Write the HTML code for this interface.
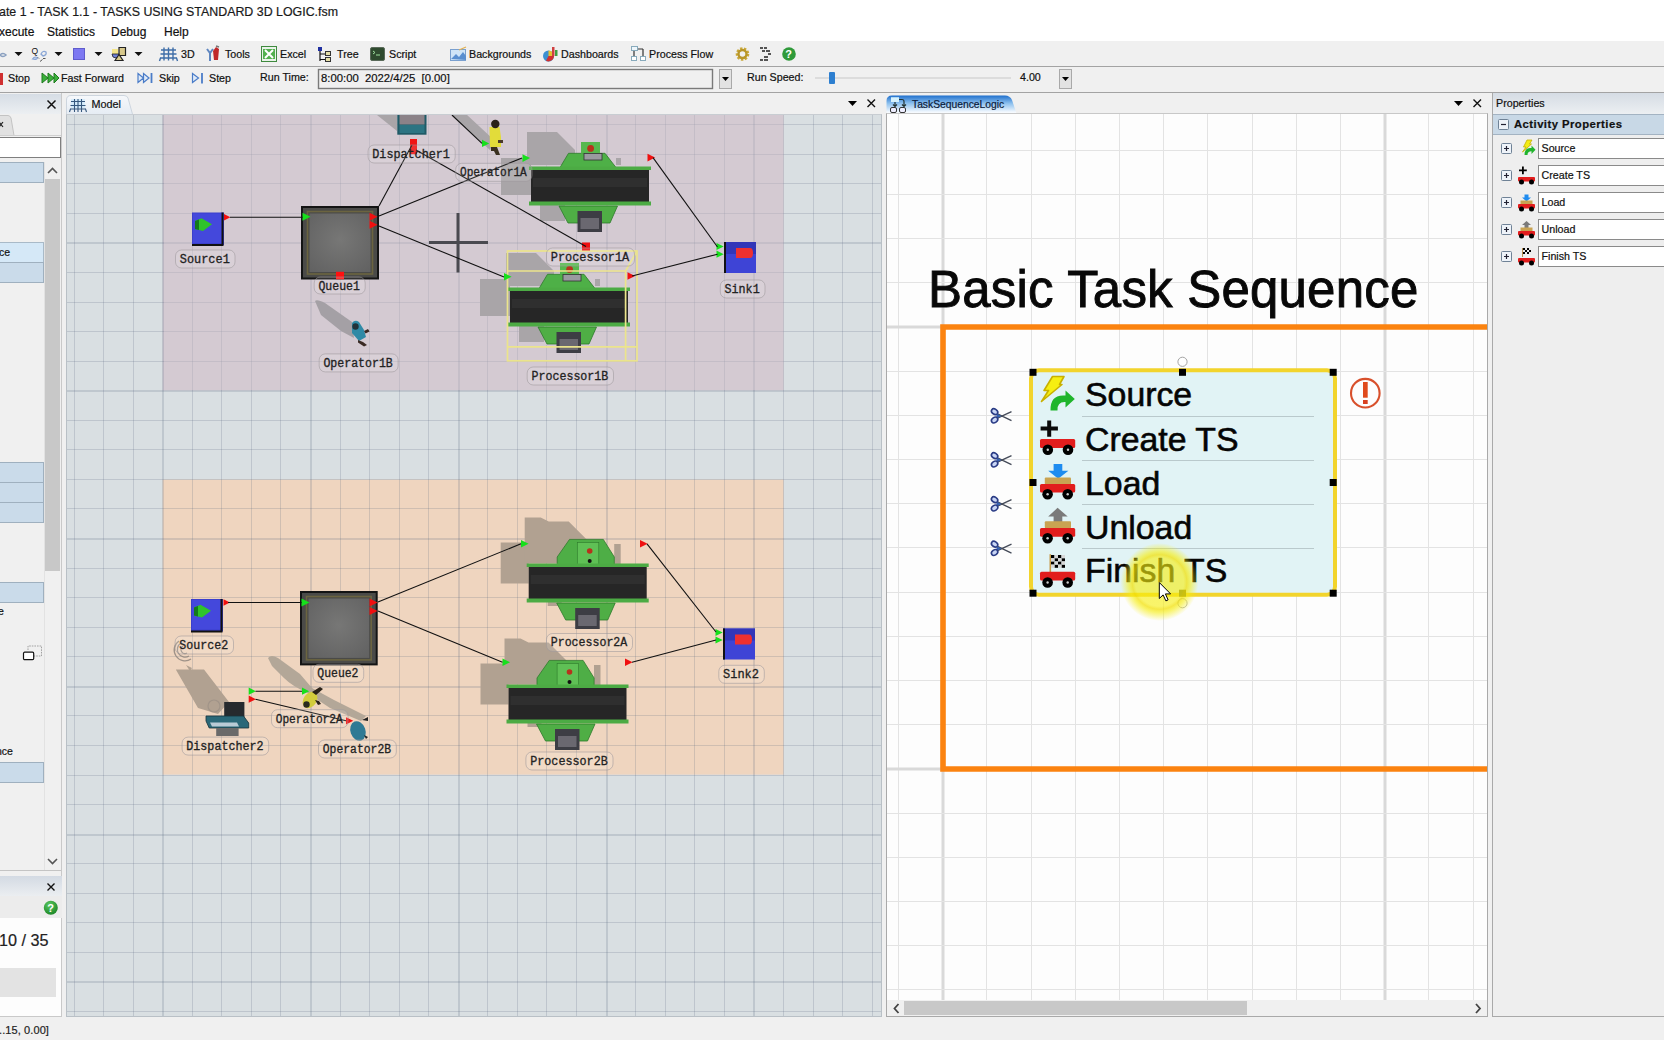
<!DOCTYPE html>
<html><head><meta charset="utf-8">
<style>
*{box-sizing:border-box}
html,body{margin:0;padding:0}
body{width:1664px;height:1040px;overflow:hidden;position:relative;background:#f0f0f0;font-family:"Liberation Sans",sans-serif;color:#000}
.a{position:absolute}
.t{position:absolute;white-space:nowrap;line-height:1;-webkit-text-stroke:0.2px currentColor}
svg{position:absolute;left:0;top:0;overflow:hidden}
</style></head><body>
<!-- title + menu -->
<div class="a" style="left:0;top:0;width:1664px;height:41px;background:#fff"></div>
<div class="t" style="left:-1px;top:6px;font-size:12.4px;color:#1a1a1a">ate 1 - TASK 1.1 - TASKS USING STANDARD 3D LOGIC.fsm</div>
<div class="t" style="left:-1px;top:26px;font-size:12px;color:#111">xecute</div>
<div class="t" style="left:47px;top:26px;font-size:12px;color:#111">Statistics</div>
<div class="t" style="left:111px;top:26px;font-size:12px;color:#111">Debug</div>
<div class="t" style="left:164px;top:26px;font-size:12px;color:#111">Help</div>
<!-- toolbars bg -->
<div class="a" style="left:0;top:41px;width:1664px;height:52px;background:#f0f0f0"></div>
<div class="a" style="left:0;top:66px;width:1664px;height:1px;background:#a3a3a3"></div>
<div class="a" style="left:0;top:92px;width:1664px;height:1px;background:#a3a3a3"></div>
<!-- toolbar 1 icons -->
<svg style="left:0;top:41px" width="820" height="25">
 <g fill="#111"><path d="M14.5,11 h8 l-4,4z M54.5,11 h8 l-4,4z M94.5,11 h8 l-4,4z M134.5,11 h8 l-4,4z"/></g>
 <path d="M0,14 q3,-3 6,0 q-3,3 -6,0" fill="none" stroke="#8aa0c0" stroke-width="1.5"/>
 <text x="31.5" y="13" font-family="Liberation Sans" font-size="8.5" fill="#111">Q</text>
 <path d="M41,13 q2,-4 5,-2 q1,3 -3,4z" fill="none" stroke="#8aa6d6" stroke-width="1.3"/><path d="M32.5,18 q2,-3 5,-1.5 q0,2.5 -5,1.5z" fill="#c8d6ee" stroke="#8aa6d6" stroke-width="1.2"/><path d="M40,20.5 l2.5,-2 M43,17.5 h2.5 M38,16.5 l1,1" stroke="#444" stroke-width="0.9"/>
 <rect x="73.5" y="7.5" width="11" height="11" fill="#7d78f2" stroke="#5f5ccc"/>
 <path d="M112,8 h6 v5 h-6z" fill="#f4e58a"/><path d="M112,13 a4,4 0 0,0 8,0z" fill="#6f7fd6" stroke="#222" stroke-width="0.8"/><path d="M119,6.5 h6.5 v8 h-6.5z" fill="#d8c98c" stroke="#222" stroke-width="1.2"/><path d="M115,19.5 l4,-6 l4,6z" fill="#d8c98c" stroke="#222" stroke-width="1.2"/>
 <!-- 3D -->
 <g stroke="#3f6ea8" stroke-width="1.4" fill="none"><path d="M161,9 h15 M160.5,13 h16 M160,17 h17 M164,6.5 v13 M168.5,6.5 v13 M173,6.5 v13 M160.5,17 l-1,3 M176.5,17 l1,3"/></g>
 <!-- Tools -->
 <path d="M207,8 l3,4 l3,-4 M210,12 v8" stroke="#5f86c0" stroke-width="2" fill="none"/><path d="M213,10 l3,-4 l3,2 l-1,11 h-4z" fill="#c0282a"/><path d="M216,5 l3,1" stroke="#777" stroke-width="1.5"/>
 <!-- Excel -->
 <rect x="261.5" y="5.5" width="15" height="15" fill="#eaf3ea" stroke="#3f8a3f"/><path d="M263,8 h12 v10 h-12z" fill="#52b04e"/><path d="M265,9 l8,8 M273,9 l-8,8" stroke="#fff" stroke-width="2"/>
 <!-- Tree -->
 <rect x="318" y="6" width="4" height="4" fill="#1f2fa0"/><path d="M320,10 v10 M320,13 h5 M320,18.5 h5" stroke="#111" stroke-width="1.2" fill="none"/><rect x="325.5" y="10.5" width="5" height="4" fill="#e6dfa8" stroke="#333"/><rect x="325.5" y="16.5" width="5" height="4" fill="#e6dfa8" stroke="#333"/>
 <!-- Script -->
 <rect x="370.5" y="6.5" width="14" height="13" rx="1.5" fill="#2e4a2e" stroke="#5a6a5a"/><path d="M373,10 l2,1.5 l-2,1.5 M376,14 h4" stroke="#9fe09f" stroke-width="1" fill="none"/>
 <!-- Backgrounds -->
 <rect x="450.5" y="8.5" width="15" height="11" fill="#cfe4f7" stroke="#7aa0cf"/><path d="M451,18 l5,-5 l3,3 l4,-5 l3,4 v4z" fill="#5a8fd0"/><path d="M459,9 l7,-3" stroke="#e0b050" stroke-width="1.2"/>
 <!-- Dashboards -->
 <circle cx="548.5" cy="15" r="5.5" fill="#3c8fd0"/><path d="M548.5,15 v-5.5 a5.5,5.5 0 0,1 5.5,5.5z" fill="#e8c030"/><path d="M548.5,15 h5.5 a5.5,5.5 0 0,1 -8,4.8z" fill="#d03030"/><path d="M552,6 h2.5 v9 h-2.5z" fill="#d04040"/><path d="M555,9 h2.5 v6 h-2.5z" fill="#40a040"/>
 <!-- Process Flow -->
 <rect x="631.5" y="5.5" width="6" height="4" fill="#eef6fb" stroke="#8ab"/><rect x="631.5" y="15.5" width="5" height="4" fill="#fff" stroke="#8ab"/><rect x="640.5" y="15.5" width="5" height="4" fill="#fff" stroke="#8ab"/><path d="M634,10 v5 M643,8 v7 M638,8 h5" stroke="#333" stroke-width="1.2" fill="none"/>
 <!-- gear -->
 <circle cx="742.5" cy="13" r="5.2" fill="none" stroke="#c9a83a" stroke-width="3.2" stroke-dasharray="2.2 1.4"/><circle cx="742.5" cy="13" r="4" fill="none" stroke="#b89628" stroke-width="2.4"/>
 <!-- tree2 -->
 <path d="M760,7 h3 M764,7 h3 M762,10 h3 M766,10 h4 M768,13 h3 M764,16 h4 M760,19 h3 M764,19 h4" stroke="#222" stroke-width="1.6"/>
 <!-- help -->
 <circle cx="789" cy="13" r="6.8" fill="#2f9a3a"/><text x="785.3" y="17.3" font-family="Liberation Sans" font-weight="bold" font-size="11" fill="#fff">?</text>
</svg>
<div class="t" style="left:181px;top:49px;font-size:10.7px;color:#111">3D</div>
<div class="t" style="left:225px;top:49px;font-size:10.7px;color:#111">Tools</div>
<div class="t" style="left:280px;top:49px;font-size:10.7px;color:#111">Excel</div>
<div class="t" style="left:337px;top:49px;font-size:10.7px;color:#111">Tree</div>
<div class="t" style="left:389px;top:49px;font-size:10.7px;color:#111">Script</div>
<div class="t" style="left:469px;top:49px;font-size:10.7px;color:#111">Backgrounds</div>
<div class="t" style="left:561px;top:49px;font-size:10.7px;color:#111">Dashboards</div>
<div class="t" style="left:649px;top:49px;font-size:10.7px;color:#111">Process Flow</div>
<!-- toolbar 2 -->
<svg style="left:0;top:67px" width="1100" height="25">
 <rect x="-4" y="6" width="7" height="12" fill="#d03030"/>
 <path d="M42,6 l6,5 l-6,5z M48,6 l6,5 l-6,5z M54,6 l5,5 l-5,5z" fill="#3ab03a" stroke="#1f7a1f" stroke-width="1"/>
 <path d="M138,6.5 l5.5,4.5 l-5.5,4.5z M143.5,6.5 l5.5,4.5 l-5.5,4.5z" fill="#dfeaf8" stroke="#4a7cc8" stroke-width="1.2"/><path d="M151.5,6 v10" stroke="#4a7cc8" stroke-width="1.8"/>
 <path d="M192.5,6.5 l6,4.5 l-6,4.5z" fill="#dfeaf8" stroke="#4a7cc8" stroke-width="1.2"/><path d="M202,6 v10.5" stroke="#4a7cc8" stroke-width="1.8"/>
 <!-- run time box -->
 <rect x="318.5" y="2.5" width="394" height="19" fill="#f0f0f0" stroke="#7a7a7a" stroke-width="1.4"/>
 <rect x="719.5" y="2.5" width="12" height="19" fill="#e2e2e2" stroke="#a9a9a9"/>
 <path d="M722,10 h7 l-3.5,4z" fill="#000"/>
 <!-- slider -->
 <rect x="815" y="10" width="196" height="2" fill="#dcdcdc"/>
 <rect x="829" y="5" width="6" height="12" rx="1" fill="#2d7fd0"/>
 <rect x="1059.5" y="2.5" width="12" height="19" fill="#e2e2e2" stroke="#a9a9a9"/>
 <path d="M1062,10 h7 l-3.5,4z" fill="#000"/>
</svg>
<div class="t" style="left:8px;top:73px;font-size:10.7px;color:#111">Stop</div>
<div class="t" style="left:61px;top:73px;font-size:10.7px;color:#111">Fast Forward</div>
<div class="t" style="left:159px;top:73px;font-size:10.7px;color:#111">Skip</div>
<div class="t" style="left:209px;top:73px;font-size:10.7px;color:#111">Step</div>
<div class="t" style="left:260px;top:72px;font-size:10.7px;color:#111">Run Time:</div>
<div class="t" style="left:321px;top:73px;font-size:11.3px;color:#111;white-space:pre">8:00:00  2022/4/25  [0.00]</div>
<div class="t" style="left:747px;top:72px;font-size:10.7px;color:#111">Run Speed:</div>
<div class="t" style="left:1020px;top:72px;font-size:10.7px;color:#111">4.00</div>
<!-- left panel -->
<div class="a" style="left:0;top:93px;width:62px;height:924px;background:#f0f0f0"></div>
<div class="a" style="left:0;top:94px;width:62px;height:20px;background:linear-gradient(#d6dde5,#eceff2)"></div>
<svg style="left:46px;top:99px" width="12" height="12"><path d="M1.5,1.5 l8,8 M9.5,1.5 l-8,8" stroke="#111" stroke-width="1.5"/></svg>
<svg style="left:0;top:115px" width="20" height="21"><path d="M-5,20.5 L-5,0.5 L8,0.5 Q10,0.5 11,3 L14,20.5z" fill="#e1e1e1" stroke="#c3c3c3"/><path d="M-1,7 l4,5 M3,7 l-4,5" stroke="#222" stroke-width="1.2"/></svg>
<div class="a" style="left:0;top:135px;width:62px;height:1px;background:#d0d0d0"></div>
<div class="a" style="left:-2px;top:137px;width:63px;height:21px;background:#fff;border:1px solid #7f7f7f"></div>
<!-- list rows -->
<div class="a" style="left:-2px;top:162px;width:46px;height:21px;background:#cadbea;border:1px solid #9fb0bf"></div>
<div class="a" style="left:-2px;top:242px;width:46px;height:21px;background:#d5e8f7;border:1px solid #a9bac8"></div>
<div class="t" style="left:-1px;top:247px;font-size:10.5px;color:#111">ce</div>
<div class="a" style="left:-2px;top:262px;width:46px;height:21px;background:#cadbea;border:1px solid #9fb0bf"></div>
<div class="a" style="left:-2px;top:462px;width:46px;height:21px;background:#cadbea;border:1px solid #9fb0bf"></div>
<div class="a" style="left:-2px;top:482px;width:46px;height:21px;background:#cadbea;border:1px solid #9fb0bf"></div>
<div class="a" style="left:-2px;top:502px;width:46px;height:21px;background:#cadbea;border:1px solid #9fb0bf"></div>
<div class="a" style="left:-2px;top:582px;width:46px;height:21px;background:#cadbea;border:1px solid #9fb0bf"></div>
<div class="t" style="left:-2px;top:606px;font-size:10.5px;color:#111">e</div>
<svg style="left:20px;top:644px" width="24" height="20"><path d="M8,6 v-4 h13.5 v10 h-8" fill="none" stroke="#999" stroke-width="0.9" stroke-dasharray="1.6 1"/><rect x="3.5" y="8.2" width="10.2" height="7.4" rx="1.2" fill="#fff" stroke="#111" stroke-width="1.2"/></svg>
<div class="t" style="left:-4px;top:746px;font-size:10.5px;color:#111">nce</div>
<div class="a" style="left:-2px;top:762px;width:46px;height:21px;background:#cadbea;border:1px solid #9fb0bf"></div>
<!-- scrollbar -->
<div class="a" style="left:44px;top:162px;width:1px;height:709px;background:#e2e2e2"></div>
<svg style="left:46px;top:166px" width="14" height="10"><path d="M2,7 l4.5,-4.5 l4.5,4.5" stroke="#555" stroke-width="1.6" fill="none"/></svg>
<div class="a" style="left:45px;top:179px;width:15px;height:392px;background:#c8c8c8"></div>
<svg style="left:46px;top:856px" width="14" height="10"><path d="M2,3 l4.5,4.5 l4.5,-4.5" stroke="#555" stroke-width="1.6" fill="none"/></svg>
<div class="a" style="left:0;top:870px;width:62px;height:1px;background:#c4c4c4"></div>
<div class="a" style="left:61px;top:93px;width:1px;height:924px;background:#c9c9c9"></div>
<!-- bottom panel -->
<div class="a" style="left:0;top:876px;width:62px;height:20px;background:linear-gradient(#d3dae3,#ebeef1)"></div>
<svg style="left:46px;top:882px" width="12" height="12"><path d="M1.5,1.5 l7,7 M8.5,1.5 l-7,7" stroke="#111" stroke-width="1.4"/></svg>
<div class="a" style="left:0;top:896px;width:62px;height:22px;background:#ececec"></div>
<svg style="left:42px;top:899px" width="18" height="18"><defs><radialGradient id="hg" cx="0.4" cy="0.3" r="0.8"><stop offset="0" stop-color="#5cc862"/><stop offset="1" stop-color="#15801f"/></radialGradient></defs><circle cx="8.8" cy="8.7" r="7" fill="url(#hg)"/><text x="5.3" y="13" font-family="Liberation Sans" font-weight="bold" font-size="11" fill="#fff">?</text></svg>
<div class="a" style="left:0;top:918px;width:61px;height:98px;background:#fdfdfd"></div>
<div class="t" style="left:-1px;top:932px;font-size:16.2px;color:#222">10 / 35</div>
<div class="a" style="left:0;top:968px;width:56px;height:29px;background:#e3e3e3"></div>
<div class="a" style="left:0;top:1016px;width:62px;height:1px;background:#c9c9c9"></div>
<!-- status bar -->
<div class="a" style="left:0;top:1017px;width:1664px;height:23px;background:#f0f0f0"></div>
<div class="t" style="left:-1px;top:1025px;font-size:11px;color:#222;letter-spacing:0.1px">..15, 0.00]</div>
<div class="a" style="left:62px;top:93px;width:824px;height:924px;background:#f0f0f0"></div>
<svg style="left:66px;top:95px" width="70" height="21"><defs><linearGradient id="tabg" x1="0" y1="0" x2="0" y2="1"><stop offset="0" stop-color="#f6f8fb"/><stop offset="1" stop-color="#e4ebf3"/></linearGradient></defs>
<path d="M0.5,21 L0.5,5 Q0.5,0.5 5,0.5 L58,0.5 Q61,0.5 62,3 L67,21 Z" fill="url(#tabg)" stroke="#cdd5de"/>
<path d="M5,4 h14 v9 h-14z" fill="#cfeafb" opacity="0.8"/>
<g stroke="#36587e" stroke-width="1.1" fill="none"><path d="M5,6.5 h14 M4.5,10.5 h15 M4,14 h16 M8.5,4 v13 M12,4 v13 M15.5,4 v13 M4.5,14 l-1,3 M19.5,14 l1,3"/></g>
</svg>
<div class="t" style="left:91.5px;top:99px;font-size:10.8px;color:#111">Model</div>
<svg style="left:846px;top:98px" width="40" height="14"><path d="M2,3 h9 l-4.5,5z" fill="#000"/><path d="M21.5,1.5 l7.5,7.5 M29,1.5 l-7.5,7.5" stroke="#111" stroke-width="1.4"/></svg>
<svg style="left:66px;top:115px" width="815" height="901" viewBox="66 115 815 901">
<rect x="66" y="115" width="815" height="901" fill="#d9dfe2"/>
<rect x="162.6" y="100" width="621" height="290.3" fill="#d4cad2"/>
<rect x="162.6" y="479.6" width="621" height="295" fill="#efd5bf"/>
<line x1="44.5" y1="115" x2="44.5" y2="1016" stroke="#5a6a80" stroke-opacity="0.21" stroke-width="1"/>
<line x1="74.5" y1="115" x2="74.5" y2="1016" stroke="#5a6a80" stroke-opacity="0.21" stroke-width="1"/>
<line x1="103.5" y1="115" x2="103.5" y2="1016" stroke="#5a6a80" stroke-opacity="0.21" stroke-width="1"/>
<line x1="133.5" y1="115" x2="133.5" y2="1016" stroke="#5a6a80" stroke-opacity="0.21" stroke-width="1"/>
<line x1="163.0" y1="115" x2="163.0" y2="1016" stroke="#5a6a80" stroke-opacity="0.2" stroke-width="2"/>
<line x1="192.5" y1="115" x2="192.5" y2="1016" stroke="#5a6a80" stroke-opacity="0.21" stroke-width="1"/>
<line x1="221.5" y1="115" x2="221.5" y2="1016" stroke="#5a6a80" stroke-opacity="0.21" stroke-width="1"/>
<line x1="251.5" y1="115" x2="251.5" y2="1016" stroke="#5a6a80" stroke-opacity="0.21" stroke-width="1"/>
<line x1="280.5" y1="115" x2="280.5" y2="1016" stroke="#5a6a80" stroke-opacity="0.21" stroke-width="1"/>
<line x1="311.0" y1="115" x2="311.0" y2="1016" stroke="#5a6a80" stroke-opacity="0.2" stroke-width="2"/>
<line x1="340.5" y1="115" x2="340.5" y2="1016" stroke="#5a6a80" stroke-opacity="0.21" stroke-width="1"/>
<line x1="369.5" y1="115" x2="369.5" y2="1016" stroke="#5a6a80" stroke-opacity="0.21" stroke-width="1"/>
<line x1="399.5" y1="115" x2="399.5" y2="1016" stroke="#5a6a80" stroke-opacity="0.21" stroke-width="1"/>
<line x1="428.5" y1="115" x2="428.5" y2="1016" stroke="#5a6a80" stroke-opacity="0.21" stroke-width="1"/>
<line x1="459.0" y1="115" x2="459.0" y2="1016" stroke="#5a6a80" stroke-opacity="0.2" stroke-width="2"/>
<line x1="487.5" y1="115" x2="487.5" y2="1016" stroke="#5a6a80" stroke-opacity="0.21" stroke-width="1"/>
<line x1="517.5" y1="115" x2="517.5" y2="1016" stroke="#5a6a80" stroke-opacity="0.21" stroke-width="1"/>
<line x1="546.5" y1="115" x2="546.5" y2="1016" stroke="#5a6a80" stroke-opacity="0.21" stroke-width="1"/>
<line x1="576.5" y1="115" x2="576.5" y2="1016" stroke="#5a6a80" stroke-opacity="0.21" stroke-width="1"/>
<line x1="607.0" y1="115" x2="607.0" y2="1016" stroke="#5a6a80" stroke-opacity="0.2" stroke-width="2"/>
<line x1="635.5" y1="115" x2="635.5" y2="1016" stroke="#5a6a80" stroke-opacity="0.21" stroke-width="1"/>
<line x1="665.5" y1="115" x2="665.5" y2="1016" stroke="#5a6a80" stroke-opacity="0.21" stroke-width="1"/>
<line x1="694.5" y1="115" x2="694.5" y2="1016" stroke="#5a6a80" stroke-opacity="0.21" stroke-width="1"/>
<line x1="724.5" y1="115" x2="724.5" y2="1016" stroke="#5a6a80" stroke-opacity="0.21" stroke-width="1"/>
<line x1="754.0" y1="115" x2="754.0" y2="1016" stroke="#5a6a80" stroke-opacity="0.2" stroke-width="2"/>
<line x1="783.5" y1="115" x2="783.5" y2="1016" stroke="#5a6a80" stroke-opacity="0.21" stroke-width="1"/>
<line x1="813.5" y1="115" x2="813.5" y2="1016" stroke="#5a6a80" stroke-opacity="0.21" stroke-width="1"/>
<line x1="842.5" y1="115" x2="842.5" y2="1016" stroke="#5a6a80" stroke-opacity="0.21" stroke-width="1"/>
<line x1="872.5" y1="115" x2="872.5" y2="1016" stroke="#5a6a80" stroke-opacity="0.21" stroke-width="1"/>
<line x1="66" y1="96.0" x2="881" y2="96.0" stroke="#5a6a80" stroke-opacity="0.2" stroke-width="2"/>
<line x1="66" y1="124.5" x2="881" y2="124.5" stroke="#5a6a80" stroke-opacity="0.21" stroke-width="1"/>
<line x1="66" y1="154.5" x2="881" y2="154.5" stroke="#5a6a80" stroke-opacity="0.21" stroke-width="1"/>
<line x1="66" y1="183.5" x2="881" y2="183.5" stroke="#5a6a80" stroke-opacity="0.21" stroke-width="1"/>
<line x1="66" y1="213.5" x2="881" y2="213.5" stroke="#5a6a80" stroke-opacity="0.21" stroke-width="1"/>
<line x1="66" y1="243.0" x2="881" y2="243.0" stroke="#5a6a80" stroke-opacity="0.2" stroke-width="2"/>
<line x1="66" y1="272.5" x2="881" y2="272.5" stroke="#5a6a80" stroke-opacity="0.21" stroke-width="1"/>
<line x1="66" y1="302.5" x2="881" y2="302.5" stroke="#5a6a80" stroke-opacity="0.21" stroke-width="1"/>
<line x1="66" y1="331.5" x2="881" y2="331.5" stroke="#5a6a80" stroke-opacity="0.21" stroke-width="1"/>
<line x1="66" y1="361.5" x2="881" y2="361.5" stroke="#5a6a80" stroke-opacity="0.21" stroke-width="1"/>
<line x1="66" y1="391.0" x2="881" y2="391.0" stroke="#5a6a80" stroke-opacity="0.2" stroke-width="2"/>
<line x1="66" y1="420.5" x2="881" y2="420.5" stroke="#5a6a80" stroke-opacity="0.21" stroke-width="1"/>
<line x1="66" y1="449.5" x2="881" y2="449.5" stroke="#5a6a80" stroke-opacity="0.21" stroke-width="1"/>
<line x1="66" y1="479.5" x2="881" y2="479.5" stroke="#5a6a80" stroke-opacity="0.21" stroke-width="1"/>
<line x1="66" y1="508.5" x2="881" y2="508.5" stroke="#5a6a80" stroke-opacity="0.21" stroke-width="1"/>
<line x1="66" y1="539.0" x2="881" y2="539.0" stroke="#5a6a80" stroke-opacity="0.2" stroke-width="2"/>
<line x1="66" y1="568.5" x2="881" y2="568.5" stroke="#5a6a80" stroke-opacity="0.21" stroke-width="1"/>
<line x1="66" y1="597.5" x2="881" y2="597.5" stroke="#5a6a80" stroke-opacity="0.21" stroke-width="1"/>
<line x1="66" y1="627.5" x2="881" y2="627.5" stroke="#5a6a80" stroke-opacity="0.21" stroke-width="1"/>
<line x1="66" y1="656.5" x2="881" y2="656.5" stroke="#5a6a80" stroke-opacity="0.21" stroke-width="1"/>
<line x1="66" y1="687.0" x2="881" y2="687.0" stroke="#5a6a80" stroke-opacity="0.2" stroke-width="2"/>
<line x1="66" y1="715.5" x2="881" y2="715.5" stroke="#5a6a80" stroke-opacity="0.21" stroke-width="1"/>
<line x1="66" y1="745.5" x2="881" y2="745.5" stroke="#5a6a80" stroke-opacity="0.21" stroke-width="1"/>
<line x1="66" y1="775.5" x2="881" y2="775.5" stroke="#5a6a80" stroke-opacity="0.21" stroke-width="1"/>
<line x1="66" y1="804.5" x2="881" y2="804.5" stroke="#5a6a80" stroke-opacity="0.21" stroke-width="1"/>
<line x1="66" y1="835.0" x2="881" y2="835.0" stroke="#5a6a80" stroke-opacity="0.2" stroke-width="2"/>
<line x1="66" y1="863.5" x2="881" y2="863.5" stroke="#5a6a80" stroke-opacity="0.21" stroke-width="1"/>
<line x1="66" y1="893.5" x2="881" y2="893.5" stroke="#5a6a80" stroke-opacity="0.21" stroke-width="1"/>
<line x1="66" y1="922.5" x2="881" y2="922.5" stroke="#5a6a80" stroke-opacity="0.21" stroke-width="1"/>
<line x1="66" y1="952.5" x2="881" y2="952.5" stroke="#5a6a80" stroke-opacity="0.21" stroke-width="1"/>
<line x1="66" y1="982.0" x2="881" y2="982.0" stroke="#5a6a80" stroke-opacity="0.2" stroke-width="2"/>
<line x1="66" y1="1011.5" x2="881" y2="1011.5" stroke="#5a6a80" stroke-opacity="0.21" stroke-width="1"/>
<rect x="164" y="100" width="619.6" height="290" fill="#d4cad2" fill-opacity="0.4"/>
<defs><radialGradient id="qg" cx="0.5" cy="0.45" r="0.7"><stop offset="0" stop-color="#777776"/><stop offset="1" stop-color="#626262"/></radialGradient></defs>
<path d="M377,115 L397,115 L397,131 Z" fill="#a9a5a8"/>
<rect x="397.3" y="114" width="29.2" height="20.7" fill="#1f5a66"/><rect x="399.5" y="114" width="25" height="10.5" fill="#8b8288"/><rect x="399.5" y="125" width="25" height="8" fill="#2c7482"/>
<path d="M450,114 L466,114 L494,140 L490,150 Z" fill="#a9a5a8"/>
<g fill="#a9a5a8"><path d="M501,158 h30 v37 h-30 z"/><path d="M527,132 h30 l18,18 v15 h-48 z"/><path d="M616,158 h5 v7 h-5z"/><path d="M540,205 h25 v16 h-25z"/></g><path d="M559,206 L617.5,206 L610,223 L568,223 Z" fill="#4fae45" stroke="#2c7a2a" stroke-width="0.8"/><rect x="577.5" y="211" width="24.5" height="21" fill="#3d3d44"/><rect x="580.5" y="218" width="18.5" height="11" fill="#6a6870"/><path d="M560,167.5 L616,167.5 L605,153.3 L568.5,153.3 Z" fill="#4eb047" stroke="#2f7a2c" stroke-width="0.8"/><rect x="581" y="142" width="19" height="11.5" fill="#56b84e"/><circle cx="590.6" cy="148.4" r="3.4" fill="#b8321c"/><rect x="584" y="153.5" width="18" height="6.5" fill="#9a9aa0" stroke="#333" stroke-width="0.8"/><rect x="531" y="169" width="118" height="33" fill="#262626"/><rect x="533" y="178" width="114" height="9" fill="#2f2f2f"/><rect x="529" y="166.5" width="122" height="3.5" fill="#4cab44"/><rect x="529" y="201.5" width="122" height="4" fill="#4cab44"/>
<g fill="#a9a5a8"><path d="M480,279 h30 v37 h-30 z"/><path d="M506,253 h30 l18,18 v15 h-48 z"/><path d="M595,279 h5 v7 h-5z"/><path d="M519,326 h25 v16 h-25z"/></g><path d="M538,327 L596.5,327 L589,344 L547,344 Z" fill="#4fae45" stroke="#2c7a2a" stroke-width="0.8"/><rect x="556.5" y="332" width="24.5" height="21" fill="#3d3d44"/><rect x="559.5" y="339" width="18.5" height="11" fill="#6a6870"/><path d="M539,288.5 L595,288.5 L584,274.3 L547.5,274.3 Z" fill="#4eb047" stroke="#2f7a2c" stroke-width="0.8"/><rect x="560" y="263" width="19" height="11.5" fill="#56b84e"/><circle cx="569.6" cy="269.4" r="3.4" fill="#b8321c"/><rect x="563" y="274.5" width="18" height="6.5" fill="#9a9aa0" stroke="#333" stroke-width="0.8"/><rect x="510" y="290" width="118" height="33" fill="#262626"/><rect x="512" y="299" width="114" height="9" fill="#2f2f2f"/><rect x="508" y="287.5" width="122" height="3.5" fill="#4cab44"/><rect x="508" y="322.5" width="122" height="4" fill="#4cab44"/>
<g fill="none" stroke="#ebe48c" stroke-width="1.7"><rect x="507.5" y="251" width="129.5" height="109.8"/><path d="M507.5,271 H625.6 V360.8 M507.5,346.8 H637 M625.6,271 L637,251"/></g>
<rect x="301" y="206" width="78" height="73.5" fill="#141414"/><rect x="303" y="208" width="74" height="69.5" fill="#4a4a48"/><rect x="307.5" y="211.5" width="65" height="62.5" fill="none" stroke="#6b6440" stroke-width="1.6"/><rect x="309.5" y="213.5" width="61" height="58.5" fill="url(#qg)"/>
<path d="M302.5,212.7 L310.5,216.7 L302.5,220.7 Z" fill="#16e01c"/><path d="M369.5,212.7 L377.5,216.7 L369.5,220.7 Z" fill="#f01010"/><path d="M369.5,220.8 L377.5,224.8 L369.5,228.8 Z" fill="#f01010"/>
<rect x="336" y="271.8" width="8" height="7.5" fill="#ff1010"/>
<rect x="192" y="212.5" width="32" height="32.5" fill="#3b3fcc"/><rect x="193" y="213.5" width="29.5" height="29.5" fill="#4448dc"/><path d="M222.5,212.5 v32.5 h-30.5" fill="none" stroke="#111" stroke-width="2"/><path d="M195,221.0 L201.5,218.2 L212,224.2 L203,231.0 L195,229.0 Z" fill="#2fc42a"/><path d="M195,221.0 L199,219.5 L199,230.0 L195,229.0 Z" fill="#137a1c"/>
<path d="M224,214.0 L230.4,217.2 L224,220.39999999999998 Z" fill="#f01010"/>
<rect x="724" y="242" width="32" height="31" fill="#3e44d6"/><rect x="724" y="242" width="32" height="12" fill="#3236b8"/><path d="M725,242 v31" stroke="#111" stroke-width="2"/><path d="M736,248 h14 q3,0 3,5 q0,5 -3,5 h-14 z" fill="#ee3030"/>
<path d="M716.5,242.9 L723.7,246.5 L716.5,250.1 Z" fill="#16e01c"/><path d="M716.5,250.6 L723.7,254.2 L716.5,257.8 Z" fill="#16e01c"/>
<rect x="410" y="139" width="7" height="15.2" fill="#f01515"/>
<path d="M429,242.5 H488 M458,213 V272.5" stroke="#4a4a50" stroke-width="3"/>
<path d="M489.5,127 h10 l1.5,10 v10 h-11z" fill="#e2dc3a"/><circle cx="495.3" cy="124" r="4.2" fill="#2a2218"/><path d="M491,147 h6 l3,8 h-4 l-2,-4 h-3z" fill="#3a3020"/><rect x="498" y="140" width="5" height="3" fill="#4a3a2a"/>
<path d="M315,301 Q317,299 325,303 L352,322 L354,338 L341,331 L321,315 Z" fill="#a4a0a5"/>
<path d="M352,323 Q355,319 359,322 L364,330 L366,337 L359,341 L352,333 Z" fill="#2f8aa6"/><circle cx="355.5" cy="326.5" r="3.2" fill="#22323a"/><path d="M364,331 l4,-2 l1.5,2.5 l-4,2z M358,340 l5,2 l4,3 l-3,1.5 l-6,-4z" fill="#3a2a24"/>
<path d="M482,139.8 L489.2,143.4 L482,147.0 Z" fill="#16e01c"/>
<path d="M522.5,154.29999999999998 L530.1,158.1 L522.5,161.9 Z" fill="#16e01c"/><path d="M647.5,153.79999999999998 L655.1,157.6 L647.5,161.4 Z" fill="#f01010"/>
<path d="M504,273.0 L511.6,276.8 L504,280.6 Z" fill="#16e01c"/><path d="M627.5,272.2 L635.1,276 L627.5,279.8 Z" fill="#f01010"/>
<rect x="582" y="242.5" width="8" height="8" fill="#f01010"/>
<line x1="230" y1="217.2" x2="302.5" y2="217.2" stroke="#111" stroke-width="1.1"/>
<line x1="379" y1="206" x2="412" y2="145" stroke="#111" stroke-width="1.1"/>
<line x1="379" y1="216" x2="522" y2="158" stroke="#111" stroke-width="1.1"/>
<line x1="379" y1="226" x2="504" y2="277" stroke="#111" stroke-width="1.1"/>
<line x1="416" y1="150" x2="586" y2="246.5" stroke="#111" stroke-width="1.1"/>
<line x1="452" y1="115" x2="482" y2="143.4" stroke="#111" stroke-width="1.1"/>
<line x1="653" y1="157.6" x2="717.5" y2="247" stroke="#111" stroke-width="1.1"/>
<line x1="632" y1="276" x2="717.5" y2="254.2" stroke="#111" stroke-width="1.1"/>
<rect x="368.1" y="145.0" width="87.1" height="18" rx="6" fill="#ffffff" fill-opacity="0.12" stroke="#9c979b" stroke-opacity="0.55" stroke-width="1"/><text x="411.1" y="157.9" text-anchor="middle" font-family="Liberation Mono" font-size="12" fill="#222" stroke="#222" stroke-width="0.3" textLength="77.6" lengthAdjust="spacingAndGlyphs">Dispatcher1</text>
<rect x="455.7" y="163.3" width="76.3" height="18" rx="6" fill="#ffffff" fill-opacity="0.12" stroke="#9c979b" stroke-opacity="0.55" stroke-width="1"/><text x="493.4" y="176.2" text-anchor="middle" font-family="Liberation Mono" font-size="12" fill="#222" stroke="#222" stroke-width="0.3" textLength="66.8" lengthAdjust="spacingAndGlyphs">Operator1A</text>
<rect x="175.5" y="250.0" width="59.5" height="18" rx="6" fill="#ffffff" fill-opacity="0.12" stroke="#9c979b" stroke-opacity="0.55" stroke-width="1"/><text x="204.8" y="262.9" text-anchor="middle" font-family="Liberation Mono" font-size="12" fill="#222" stroke="#222" stroke-width="0.3" textLength="50.0" lengthAdjust="spacingAndGlyphs">Source1</text>
<rect x="314.2" y="277.0" width="51.0" height="17" rx="6" fill="#ffffff" fill-opacity="0.12" stroke="#9c979b" stroke-opacity="0.55" stroke-width="1"/><text x="339.2" y="289.9" text-anchor="middle" font-family="Liberation Mono" font-size="12" fill="#222" stroke="#222" stroke-width="0.3" textLength="41.5" lengthAdjust="spacingAndGlyphs">Queue1</text>
<rect x="546.5" y="248.0" width="88.0" height="18" rx="6" fill="#ffffff" fill-opacity="0.12" stroke="#9c979b" stroke-opacity="0.55" stroke-width="1"/><text x="590.0" y="260.9" text-anchor="middle" font-family="Liberation Mono" font-size="12" fill="#222" stroke="#222" stroke-width="0.3" textLength="78.5" lengthAdjust="spacingAndGlyphs">Processor1A</text>
<rect x="720.3" y="280.0" width="44.7" height="18" rx="6" fill="#ffffff" fill-opacity="0.12" stroke="#9c979b" stroke-opacity="0.55" stroke-width="1"/><text x="742.1" y="292.9" text-anchor="middle" font-family="Liberation Mono" font-size="12" fill="#222" stroke="#222" stroke-width="0.3" textLength="35.2" lengthAdjust="spacingAndGlyphs">Sink1</text>
<rect x="319.2" y="353.9" width="78.9" height="18" rx="6" fill="#ffffff" fill-opacity="0.12" stroke="#9c979b" stroke-opacity="0.55" stroke-width="1"/><text x="358.1" y="366.8" text-anchor="middle" font-family="Liberation Mono" font-size="12" fill="#222" stroke="#222" stroke-width="0.3" textLength="69.4" lengthAdjust="spacingAndGlyphs">Operator1B</text>
<rect x="527.2" y="367.0" width="86.3" height="18" rx="6" fill="#ffffff" fill-opacity="0.12" stroke="#9c979b" stroke-opacity="0.55" stroke-width="1"/><text x="569.9" y="379.9" text-anchor="middle" font-family="Liberation Mono" font-size="12" fill="#222" stroke="#222" stroke-width="0.3" textLength="76.8" lengthAdjust="spacingAndGlyphs">Processor1B</text>
<g fill="none" stroke="#91877f" stroke-width="1.3" opacity="0.85"><path d="M183,646 a4,4 0 1,0 4,7"/><path d="M181,643 a7,7 0 1,0 8,13"/><path d="M179,641 a10,10 0 1,0 12,18"/></g>
<path d="M175.8,669.6 L204,669.6 L229,702 L218,714 L198,708 Z M186,665 L192,668 L190,671z" fill="#b1a191"/>
<path d="M268,658 Q271,654 278,658 L300,674 L312,688 L334,700 L366,716 L361,721 L330,708 L306,692 Q292,686 284,678 L272,666 Z" fill="#b3a798"/>
<g fill="#b1a191"><path d="M500.70000000000005,542.5 h28 v41 h-28 z"/><path d="M524.7,517.5 h16 l8,4 h20 l18,18 v24 h-62 z"/><path d="M614.2,544 h6.5 v21 h-6.5z"/><path d="M547.7,602 h14 v4 h-14z"/></g><path d="M556.7,603 L615.2,603 L607.7,620 L565.7,620 Z" fill="#4fae45" stroke="#2c7a2a" stroke-width="0.8"/><rect x="575.2" y="608" width="24.5" height="21" fill="#3d3d44"/><rect x="578.2" y="615" width="18.5" height="11" fill="#6a6870"/><path d="M557.2,566 L557.2,557 L569.5,539.4 L603.3000000000001,539.4 L614.3000000000001,557 L614.3000000000001,566 Z" fill="#4eae46" stroke="#2f7a2c" stroke-width="0.8"/><rect x="577.3000000000001" y="542.6" width="21.5" height="22" fill="#5fc055" stroke="#2f7a2c" stroke-width="0.6"/><circle cx="589.7" cy="551" r="2.8" fill="#b8321c"/><circle cx="589.7" cy="561" r="2" fill="#111"/><rect x="528.7" y="566" width="118" height="33" fill="#262626"/><rect x="530.7" y="575" width="114" height="9" fill="#2f2f2f"/><rect x="526.7" y="563.5" width="122" height="3.5" fill="#4cab44"/><rect x="526.7" y="598.5" width="122" height="4" fill="#4cab44"/>
<g fill="#b1a191"><path d="M480.5,663.5 h28 v41 h-28 z"/><path d="M504.5,638.5 h16 l8,4 h20 l18,18 v24 h-62 z"/><path d="M594.0,665 h6.5 v21 h-6.5z"/><path d="M527.5,723 h14 v4 h-14z"/></g><path d="M536.5,724 L595.0,724 L587.5,741 L545.5,741 Z" fill="#4fae45" stroke="#2c7a2a" stroke-width="0.8"/><rect x="555.0" y="729" width="24.5" height="21" fill="#3d3d44"/><rect x="558.0" y="736" width="18.5" height="11" fill="#6a6870"/><path d="M537.0,687 L537.0,678 L549.3,660.4 L583.1,660.4 L594.1,678 L594.1,687 Z" fill="#4eae46" stroke="#2f7a2c" stroke-width="0.8"/><rect x="557.1" y="663.6" width="21.5" height="22" fill="#5fc055" stroke="#2f7a2c" stroke-width="0.6"/><circle cx="569.5" cy="672" r="2.8" fill="#b8321c"/><circle cx="569.5" cy="682" r="2" fill="#111"/><rect x="508.5" y="687" width="118" height="33" fill="#262626"/><rect x="510.5" y="696" width="114" height="9" fill="#2f2f2f"/><rect x="506.5" y="684.5" width="122" height="3.5" fill="#4cab44"/><rect x="506.5" y="719.5" width="122" height="4" fill="#4cab44"/>
<rect x="300" y="591" width="77.7" height="74.4" fill="#141414"/><rect x="302" y="593" width="73.7" height="70.4" fill="#4a4a48"/><rect x="306.5" y="596.5" width="64.7" height="63.400000000000006" fill="none" stroke="#6b6440" stroke-width="1.6"/><rect x="308.5" y="598.5" width="60.7" height="59.400000000000006" fill="url(#qg)"/>
<path d="M301.5,598.5 L309.5,602.5 L301.5,606.5 Z" fill="#16e01c"/><path d="M369.5,598.5 L377.5,602.5 L369.5,606.5 Z" fill="#f01010"/><path d="M369.5,607.0 L377.5,611 L369.5,615.0 Z" fill="#f01010"/>
<rect x="191" y="599" width="32" height="32.5" fill="#3b3fcc"/><rect x="192" y="600" width="29.5" height="29.5" fill="#4448dc"/><path d="M221.5,599 v32.5 h-30.5" fill="none" stroke="#111" stroke-width="2"/><path d="M194,607.5 L200.5,604.7 L211,610.7 L202,617.5 L194,615.5 Z" fill="#2fc42a"/><path d="M194,607.5 L198,606 L198,616.5 L194,615.5 Z" fill="#137a1c"/>
<path d="M223.5,599.3 L229.9,602.5 L223.5,605.7 Z" fill="#f01010"/>
<rect x="723" y="628.5" width="32" height="31" fill="#3e44d6"/><rect x="723" y="628.5" width="32" height="12" fill="#3236b8"/><path d="M724,628.5 v31" stroke="#111" stroke-width="2"/><path d="M735,634.5 h14 q3,0 3,5 q0,5 -3,5 h-14 z" fill="#ee3030"/>
<path d="M715.5,628.9 L722.7,632.5 L715.5,636.1 Z" fill="#16e01c"/><path d="M715.5,636.4 L722.7,640 L715.5,643.6 Z" fill="#16e01c"/>
<rect x="224.2" y="702" width="20.2" height="20" fill="#262a2e"/><circle cx="214" cy="706" r="6" fill="none" stroke="#9a8e84" stroke-width="1.2" opacity="0.7"/><path d="M206,716 h37.5 l5.2,7 v5 h-39.5 l-3.2,-7z" fill="#2a6878" stroke="#17323a" stroke-width="0.8"/><path d="M210,722.5 h27 l2,4 h-27z" fill="#b9cbd6"/><rect x="216.2" y="728" width="22.4" height="8" fill="#6a6a6a"/>
<ellipse cx="310" cy="700" rx="6.5" ry="9" transform="rotate(35 310 700)" fill="#d2cc3c"/><circle cx="306.5" cy="704.5" r="3.2" fill="#2a2a20"/><path d="M312,692 l8,-5 l3,2 l-7,6z M315,700 l4,1 l2,3 l-3,1z" fill="#2a2218"/>
<ellipse cx="358" cy="731" rx="7.5" ry="10" transform="rotate(-20 358 731)" fill="#2f7a94"/><path d="M362,720 l6,-3 v4z M364,735 l4,2 l-2,2z" fill="#222"/>
<path d="M248.7,687.6 L255.89999999999998,691.2 L248.7,694.8000000000001 Z" fill="#16e01c"/><path d="M302,687.6 L309.2,691.2 L302,694.8000000000001 Z" fill="#16e01c"/>
<path d="M248.7,695.6 L255.89999999999998,699.2 L248.7,702.8000000000001 Z" fill="#f01010"/><path d="M346,717.1999999999999 L353.2,720.8 L346,724.4 Z" fill="#f01010"/>
<line x1="255.5" y1="691.2" x2="302" y2="691.2" stroke="#111" stroke-width="1.1"/><line x1="255.5" y1="699.2" x2="346" y2="720.8" stroke="#111" stroke-width="1.1"/>
<path d="M521,540.0 L528.6,543.8 L521,547.5999999999999 Z" fill="#16e01c"/><path d="M640,540.0 L647.6,543.8 L640,547.5999999999999 Z" fill="#f01010"/>
<path d="M502.5,658.5 L510.1,662.3 L502.5,666.0999999999999 Z" fill="#16e01c"/><path d="M625,658.5 L632.6,662.3 L625,666.0999999999999 Z" fill="#f01010"/>
<line x1="228" y1="602.5" x2="301.5" y2="602.5" stroke="#111" stroke-width="1.1"/>
<line x1="378" y1="602" x2="521" y2="543.8" stroke="#111" stroke-width="1.1"/>
<line x1="378" y1="611" x2="502.5" y2="662.3" stroke="#111" stroke-width="1.1"/>
<line x1="647" y1="543.8" x2="716" y2="632" stroke="#111" stroke-width="1.1"/>
<line x1="632" y1="662.3" x2="716" y2="640" stroke="#111" stroke-width="1.1"/>
<rect x="175.1" y="636.0" width="58.4" height="18" rx="6" fill="#ffffff" fill-opacity="0.12" stroke="#9c979b" stroke-opacity="0.55" stroke-width="1"/><text x="203.8" y="648.9" text-anchor="middle" font-family="Liberation Mono" font-size="12" fill="#222" stroke="#222" stroke-width="0.3" textLength="48.9" lengthAdjust="spacingAndGlyphs">Source2</text>
<rect x="313.0" y="664.3" width="50.7" height="18" rx="6" fill="#ffffff" fill-opacity="0.12" stroke="#9c979b" stroke-opacity="0.55" stroke-width="1"/><text x="337.9" y="677.2" text-anchor="middle" font-family="Liberation Mono" font-size="12" fill="#222" stroke="#222" stroke-width="0.3" textLength="41.2" lengthAdjust="spacingAndGlyphs">Queue2</text>
<rect x="182.1" y="737.1" width="86.6" height="18" rx="6" fill="#ffffff" fill-opacity="0.12" stroke="#9c979b" stroke-opacity="0.55" stroke-width="1"/><text x="224.9" y="750.0" text-anchor="middle" font-family="Liberation Mono" font-size="12" fill="#222" stroke="#222" stroke-width="0.3" textLength="77.1" lengthAdjust="spacingAndGlyphs">Dispatcher2</text>
<rect x="271.5" y="709.7" width="76.5" height="18" rx="6" fill="#ffffff" fill-opacity="0.12" stroke="#9c979b" stroke-opacity="0.55" stroke-width="1"/><text x="309.2" y="722.6" text-anchor="middle" font-family="Liberation Mono" font-size="12" fill="#222" stroke="#222" stroke-width="0.3" textLength="67.0" lengthAdjust="spacingAndGlyphs">Operator2A</text>
<rect x="318.5" y="740.0" width="77.8" height="18" rx="6" fill="#ffffff" fill-opacity="0.12" stroke="#9c979b" stroke-opacity="0.55" stroke-width="1"/><text x="356.9" y="752.9" text-anchor="middle" font-family="Liberation Mono" font-size="12" fill="#222" stroke="#222" stroke-width="0.3" textLength="68.3" lengthAdjust="spacingAndGlyphs">Operator2B</text>
<rect x="546.5" y="633.5" width="86.0" height="18" rx="6" fill="#ffffff" fill-opacity="0.12" stroke="#9c979b" stroke-opacity="0.55" stroke-width="1"/><text x="589.0" y="646.4" text-anchor="middle" font-family="Liberation Mono" font-size="12" fill="#222" stroke="#222" stroke-width="0.3" textLength="76.5" lengthAdjust="spacingAndGlyphs">Processor2A</text>
<rect x="525.9" y="752.0" width="87.1" height="18" rx="6" fill="#ffffff" fill-opacity="0.12" stroke="#9c979b" stroke-opacity="0.55" stroke-width="1"/><text x="569.0" y="764.9" text-anchor="middle" font-family="Liberation Mono" font-size="12" fill="#222" stroke="#222" stroke-width="0.3" textLength="77.6" lengthAdjust="spacingAndGlyphs">Processor2B</text>
<rect x="718.8" y="665.3" width="45.5" height="18" rx="6" fill="#ffffff" fill-opacity="0.12" stroke="#9c979b" stroke-opacity="0.55" stroke-width="1"/><text x="741.0" y="678.2" text-anchor="middle" font-family="Liberation Mono" font-size="12" fill="#222" stroke="#222" stroke-width="0.3" textLength="36.0" lengthAdjust="spacingAndGlyphs">Sink2</text>
</svg>
<div class="a" style="left:66px;top:114px;width:816px;height:903px;border:1px solid #b9c0c6;border-top-color:#c8cdd2"></div><div class="a" style="left:882px;top:93px;width:610px;height:924px;background:#f0f0f0"></div>
<svg style="left:886px;top:95px" width="132" height="20"><defs><linearGradient id="tsg" x1="0" y1="0" x2="0" y2="1"><stop offset="0" stop-color="#1f6fcc"/><stop offset="0.4" stop-color="#8cc0ee"/><stop offset="0.85" stop-color="#f4f9fe"/><stop offset="1" stop-color="#ffffff"/></linearGradient></defs>
<path d="M0.5,20 L0.5,6 Q0.5,0.5 6,0.5 L119,0.5 Q124,0.5 126,5 L131,20 Z" fill="url(#tsg)"/>
<rect x="5" y="2.5" width="8" height="4.5" fill="#cdeffc" stroke="#3a6" stroke-width="0"/>
<path d="M5,2.5 h8 v4.5 h-8z" fill="#d6f2fd"/>
<path d="M9,7 v4 M7,9.5 l2,2 l2,-2 M13,4.5 h3 q2,0 2,2 v5 M16,9.5 l2,2 l2,-2" stroke="#233" stroke-width="1.2" fill="none"/>
<rect x="4.5" y="12.5" width="6" height="5" rx="1.5" fill="#eef" stroke="#333" stroke-width="1"/><rect x="13.5" y="12.5" width="6" height="5" rx="1.5" fill="#eef" stroke="#333" stroke-width="1"/>
</svg>
<div class="t" style="left:912px;top:99.5px;font-size:10.3px;color:#0b1b3b">TaskSequenceLogic</div>
<svg style="left:1452px;top:98px" width="34" height="12"><path d="M2,3 h9 l-4.5,5z" fill="#000"/><path d="M21.5,1.5 l7.5,7.5 M29,1.5 l-7.5,7.5" stroke="#111" stroke-width="1.4"/></svg>
<svg style="left:887px;top:114px" width="601" height="886" viewBox="887 114 601 886">
<rect x="887" y="114" width="601" height="886" fill="#fdfdfd"/>
<line x1="854.5" y1="114" x2="854.5" y2="1000" stroke="#e3e3e3" stroke-width="1"/>
<line x1="898.5" y1="114" x2="898.5" y2="1000" stroke="#e3e3e3" stroke-width="1"/>
<line x1="943.0" y1="114" x2="943.0" y2="1000" stroke="#d9d9d9" stroke-width="3"/>
<line x1="986.5" y1="114" x2="986.5" y2="1000" stroke="#e3e3e3" stroke-width="1"/>
<line x1="1031.5" y1="114" x2="1031.5" y2="1000" stroke="#e3e3e3" stroke-width="1"/>
<line x1="1075.5" y1="114" x2="1075.5" y2="1000" stroke="#e3e3e3" stroke-width="1"/>
<line x1="1119.5" y1="114" x2="1119.5" y2="1000" stroke="#e3e3e3" stroke-width="1"/>
<line x1="1163.5" y1="114" x2="1163.5" y2="1000" stroke="#e3e3e3" stroke-width="1"/>
<line x1="1207.5" y1="114" x2="1207.5" y2="1000" stroke="#e3e3e3" stroke-width="1"/>
<line x1="1252.5" y1="114" x2="1252.5" y2="1000" stroke="#e3e3e3" stroke-width="1"/>
<line x1="1296.5" y1="114" x2="1296.5" y2="1000" stroke="#e3e3e3" stroke-width="1"/>
<line x1="1340.5" y1="114" x2="1340.5" y2="1000" stroke="#e3e3e3" stroke-width="1"/>
<line x1="1385.0" y1="114" x2="1385.0" y2="1000" stroke="#d9d9d9" stroke-width="3"/>
<line x1="1428.5" y1="114" x2="1428.5" y2="1000" stroke="#e3e3e3" stroke-width="1"/>
<line x1="1473.5" y1="114" x2="1473.5" y2="1000" stroke="#e3e3e3" stroke-width="1"/>
<line x1="887" y1="105.5" x2="1488" y2="105.5" stroke="#e3e3e3" stroke-width="1"/>
<line x1="887" y1="150.5" x2="1488" y2="150.5" stroke="#e3e3e3" stroke-width="1"/>
<line x1="887" y1="194.5" x2="1488" y2="194.5" stroke="#e3e3e3" stroke-width="1"/>
<line x1="887" y1="238.5" x2="1488" y2="238.5" stroke="#e3e3e3" stroke-width="1"/>
<line x1="887" y1="282.5" x2="1488" y2="282.5" stroke="#e3e3e3" stroke-width="1"/>
<line x1="887" y1="327.0" x2="1488" y2="327.0" stroke="#d9d9d9" stroke-width="3"/>
<line x1="887" y1="371.5" x2="1488" y2="371.5" stroke="#e3e3e3" stroke-width="1"/>
<line x1="887" y1="415.5" x2="1488" y2="415.5" stroke="#e3e3e3" stroke-width="1"/>
<line x1="887" y1="459.5" x2="1488" y2="459.5" stroke="#e3e3e3" stroke-width="1"/>
<line x1="887" y1="503.5" x2="1488" y2="503.5" stroke="#e3e3e3" stroke-width="1"/>
<line x1="887" y1="547.5" x2="1488" y2="547.5" stroke="#e3e3e3" stroke-width="1"/>
<line x1="887" y1="592.5" x2="1488" y2="592.5" stroke="#e3e3e3" stroke-width="1"/>
<line x1="887" y1="636.5" x2="1488" y2="636.5" stroke="#e3e3e3" stroke-width="1"/>
<line x1="887" y1="680.5" x2="1488" y2="680.5" stroke="#e3e3e3" stroke-width="1"/>
<line x1="887" y1="724.5" x2="1488" y2="724.5" stroke="#e3e3e3" stroke-width="1"/>
<line x1="887" y1="769.0" x2="1488" y2="769.0" stroke="#d9d9d9" stroke-width="3"/>
<line x1="887" y1="813.5" x2="1488" y2="813.5" stroke="#e3e3e3" stroke-width="1"/>
<line x1="887" y1="857.5" x2="1488" y2="857.5" stroke="#e3e3e3" stroke-width="1"/>
<line x1="887" y1="901.5" x2="1488" y2="901.5" stroke="#e3e3e3" stroke-width="1"/>
<line x1="887" y1="945.5" x2="1488" y2="945.5" stroke="#e3e3e3" stroke-width="1"/>
<line x1="887" y1="989.5" x2="1488" y2="989.5" stroke="#e3e3e3" stroke-width="1"/>
<path d="M1500,327 H943 V769 H1500" fill="none" stroke="#fb8310" stroke-width="5.6"/>
</svg>
<div class="t" style="left:928px;top:263.5px;font-size:51px;color:#080808;-webkit-text-stroke:0.9px #080808;letter-spacing:0.2px">Basic Task Sequence</div>
<svg style="left:980px;top:350px" width="420" height="270" viewBox="980 350 420 270">
<rect x="1031" y="370.3" width="304" height="224.5" rx="8" fill="#e1f3f5" stroke="#f2d42c" stroke-width="4"/>
<g stroke="#b9c9cc" stroke-width="1"><line x1="1082" y1="416.5" x2="1314" y2="416.5"/><line x1="1082" y1="460.5" x2="1314" y2="460.5"/><line x1="1082" y1="504.5" x2="1314" y2="504.5"/><line x1="1082" y1="548.5" x2="1314" y2="548.5"/></g>
<!-- handles -->
<g fill="#000"><rect x="1029.5" y="368.8" width="7" height="7"/><rect x="1179" y="368.8" width="7" height="7"/><rect x="1329.7" y="368.8" width="7" height="7"/><rect x="1029.5" y="479" width="7" height="7"/><rect x="1329.7" y="479" width="7" height="7"/><rect x="1029.5" y="589.7" width="7" height="7"/><rect x="1329.7" y="589.7" width="7" height="7"/></g>
<rect x="1179" y="589.7" width="7" height="7" fill="#6b6b2a"/>
<circle cx="1182.5" cy="361.8" r="4.6" fill="#fff" stroke="#999" stroke-width="0.9"/>
<circle cx="1182.5" cy="603.2" r="4.6" fill="none" stroke="#aaa" stroke-width="0.9"/>
<!-- source icon -->
<path d="M1052.5,376.5 L1064,376.5 L1059.5,384.5 L1062,384.5 L1041.5,401.5 L1048.5,390.5 L1044,390.5 Z" fill="#f6ef12" stroke="#c8b000" stroke-width="1.6" stroke-linejoin="round"/>
<path d="M1050.5,410.5 Q1050,394 1065.5,395.5 L1065.5,390.5 L1074.8,399 L1065.5,407.5 L1065.5,402 Q1057,401.5 1057.5,410.5 Z" fill="#1fb52c"/>
<!-- create icon -->
<path d="M1047.2,420.4 h4 v6.2 h6.7 v4 h-6.7 v6.2 h-4 v-6.2 h-6.6 v-4 h6.6 z" fill="#0a0a0a"/>
<rect x="1040" y="439" width="35.2" height="9" rx="1.5" fill="#e21d1d"/>
<circle cx="1047.8" cy="449.7" r="5.3" fill="#000"/><circle cx="1068" cy="449.7" r="5.3" fill="#000"/><circle cx="1047.8" cy="449.7" r="1.2" fill="#ccc"/><circle cx="1068" cy="449.7" r="1.2" fill="#ccc"/>
<!-- load icon -->
<path d="M1053.6,464 h8.7 v6.8 h6.1 l-10.2,8 l-10,-8 h5.4z" fill="#1e8cf0"/>
<rect x="1044.8" y="477.5" width="26.2" height="7" rx="1" fill="#c9a352"/>
<rect x="1040" y="484" width="35.2" height="8.5" rx="1.5" fill="#e21d1d"/>
<circle cx="1047.6" cy="494.3" r="5.3" fill="#000"/><circle cx="1067.7" cy="494.3" r="5.3" fill="#000"/><circle cx="1047.6" cy="494.3" r="1.2" fill="#ccc"/><circle cx="1067.7" cy="494.3" r="1.2" fill="#ccc"/>
<!-- unload icon -->
<path d="M1057.6,507.8 l10.1,8.7 h-5.4 v6.8 h-8.7 v-6.8 h-5.4z" fill="#7a7a7a"/>
<rect x="1044.8" y="521.2" width="26.2" height="7" rx="1" fill="#c9a352"/>
<rect x="1040" y="528" width="35.2" height="8.7" rx="1.5" fill="#e21d1d"/>
<circle cx="1047.6" cy="538.3" r="5.3" fill="#000"/><circle cx="1067.7" cy="538.3" r="5.3" fill="#000"/><circle cx="1047.6" cy="538.3" r="1.2" fill="#ccc"/><circle cx="1067.7" cy="538.3" r="1.2" fill="#ccc"/>
<!-- finish icon -->
<rect x="1049.5" y="554.2" width="1.6" height="19" fill="#c59a4a"/>
<g fill="#000"><rect x="1051" y="555" width="3.5" height="3.2"/><rect x="1058" y="555" width="3.5" height="3.2"/><rect x="1054.5" y="558.2" width="3.5" height="3.2"/><rect x="1061.5" y="558.2" width="3.5" height="3.2"/><rect x="1051" y="561.4" width="3.5" height="3.2"/><rect x="1058" y="561.4" width="3.5" height="3.2"/><rect x="1054.5" y="564.6" width="3.5" height="3.2"/><rect x="1061.5" y="564.6" width="3.5" height="3.2"/></g>
<g fill="#d8d8d8"><rect x="1054.5" y="555" width="3.5" height="3.2"/><rect x="1061.5" y="555" width="3.5" height="3.2"/><rect x="1051" y="558.2" width="3.5" height="3.2"/><rect x="1058" y="558.2" width="3.5" height="3.2"/><rect x="1054.5" y="561.4" width="3.5" height="3.2"/><rect x="1061.5" y="561.4" width="3.5" height="3.2"/><rect x="1051" y="564.6" width="3.5" height="3.2"/><rect x="1058" y="564.6" width="3.5" height="3.2"/></g>
<rect x="1040" y="571.7" width="35.2" height="8.8" rx="1.5" fill="#e21d1d"/>
<circle cx="1047.6" cy="582.5" r="5.3" fill="#000"/><circle cx="1067.7" cy="582.5" r="5.3" fill="#000"/><circle cx="1047.6" cy="582.5" r="1.2" fill="#ccc"/><circle cx="1067.7" cy="582.5" r="1.2" fill="#ccc"/>
<!-- scissors -->
<g id="sc"><path d="M997.5,413.8 L1011.5,420.6 M997.5,418.2 L1011.5,411.6" stroke="#444a58" stroke-width="1.3"/><path d="M996.5,413.5 L1001.5,416 L996.5,418.5z" fill="#3660b0"/><ellipse cx="994.6" cy="411.7" rx="3.4" ry="2.5" transform="rotate(35 994.6 411.7)" fill="#c9d6f6" stroke="#2b3d86" stroke-width="1.6"/><ellipse cx="994.6" cy="420" rx="3.4" ry="2.5" transform="rotate(-35 994.6 420)" fill="#c9d6f6" stroke="#2b3d86" stroke-width="1.6"/></g>
<use href="#sc" y="44"/><use href="#sc" y="88"/><use href="#sc" y="132.5"/>
<!-- exclamation -->
<circle cx="1365.3" cy="393.2" r="14.3" fill="none" stroke="#d8502c" stroke-width="2.1"/>
<rect x="1363" y="382" width="4.7" height="15.7" fill="#e04a1c"/><rect x="1363" y="400" width="4.7" height="4" fill="#d84020"/>
</svg>
<div class="t" style="left:1085px;top:376.5px;font-size:34px;color:#050505;-webkit-text-stroke:0.6px #050505;transform:scaleX(0.995);transform-origin:0 0">Source</div>
<div class="t" style="left:1085px;top:421.5px;font-size:34px;color:#050505;-webkit-text-stroke:0.6px #050505;transform:scaleX(0.995);transform-origin:0 0">Create TS</div>
<div class="t" style="left:1085px;top:465.5px;font-size:34px;color:#050505;-webkit-text-stroke:0.6px #050505;transform:scaleX(0.995);transform-origin:0 0">Load</div>
<div class="t" style="left:1085px;top:509.5px;font-size:34px;color:#050505;-webkit-text-stroke:0.6px #050505;transform:scaleX(0.995);transform-origin:0 0">Unload</div>
<div class="t" style="left:1085px;top:552.5px;font-size:34px;color:#050505;-webkit-text-stroke:0.6px #050505;transform:scaleX(0.995);transform-origin:0 0">Finish TS</div>
<svg style="left:1100px;top:530px" width="120" height="100" viewBox="1100 530 120 100">
<defs><radialGradient id="hl"><stop offset="0" stop-color="#f6ee10" stop-opacity="0.62"/><stop offset="0.62" stop-color="#f6ee10" stop-opacity="0.62"/><stop offset="0.7" stop-color="#f2e000" stop-opacity="0.72"/><stop offset="0.78" stop-color="#f6ee10" stop-opacity="0.62"/><stop offset="1" stop-color="#f6ee10" stop-opacity="0"/></radialGradient></defs>
<circle cx="1159.5" cy="582" r="39" fill="url(#hl)"/>
<path d="M1159.3,582.5 v16 l3.8,-3.6 l2.8,6 l2.2,-1 l-2.7,-6 h5.2 z" fill="#fff" stroke="#000" stroke-width="1"/>
</svg>
<div class="a" style="left:887px;top:1000px;width:601px;height:17px;background:#f0f0f0"></div>
<div class="a" style="left:904px;top:1001px;width:343px;height:14px;background:#c8c8c8"></div>
<svg style="left:888px;top:1000px" width="600" height="17"><path d="M10.5,4 l-4,4.5 l4,4.5" stroke="#444" stroke-width="1.8" fill="none"/><path d="M588,4 l4,4.5 l-4,4.5" stroke="#444" stroke-width="1.8" fill="none"/></svg>
<div class="a" style="left:886px;top:113px;width:602px;height:904px;border:1px solid #a9a9a9;border-top-color:#c8c8c8"></div><!-- properties panel -->
<div class="a" style="left:1488px;top:93px;width:176px;height:924px;background:#f0f0f0"></div>
<div class="a" style="left:1492px;top:93px;width:172px;height:924px;background:#eeeeee;border-left:1px solid #a9a9a9;border-bottom:1px solid #a9a9a9"></div>
<div class="a" style="left:1493px;top:93px;width:171px;height:21px;background:linear-gradient(#d5dce4,#eceff2)"></div>
<div class="t" style="left:1496px;top:97.5px;font-size:10.7px;color:#111">Properties</div>
<div class="a" style="left:1493px;top:114px;width:171px;height:21px;background:#c8d8e6;border-top:1px solid #a3b3c2;border-bottom:1px solid #a3b3c2"></div>
<svg style="left:1497px;top:118px" width="14" height="14"><rect x="1.5" y="1.5" width="10" height="10" rx="1" fill="#eef3f9" stroke="#6f8296"/><path d="M4,6.5 h5" stroke="#223" stroke-width="1.2"/></svg>
<div class="t" style="left:1514px;top:118.5px;font-size:11.3px;font-weight:bold;color:#111;letter-spacing:0.45px">Activity Properties</div>
<svg style="left:1496px;top:135px" width="50" height="135">
 <g id="pb"><rect x="5.5" y="8.5" width="10" height="10" rx="1" fill="#eef3f9" stroke="#6f8296"/><path d="M8,13.5 h5 M10.5,11 v5" stroke="#223" stroke-width="1.2"/></g>
 <use href="#pb" y="27"/><use href="#pb" y="54"/><use href="#pb" y="81"/><use href="#pb" y="108"/>
 <!-- source icon -->
 <path d="M31,5 h5 l-2.5,4 h2 l-9,8 l3.5,-5 h-2.5z" fill="#f3ec14" stroke="#c4b000" stroke-width="0.8"/>
 <path d="M28.5,20 q0,-8 7,-7 v-2.5 l4,4.3 l-4,4.2 v-2.7 q-4,0 -4,3.7z" fill="#21b42c"/>
 <!-- create -->
 <path d="M26,31.5 h1.8 v3 h3 v1.8 h-3 v3 h-1.8 v-3 h-3 v-1.8 h3z" fill="#000"/>
 <rect x="22" y="42" width="17" height="4.5" rx="1" fill="#e21d1d"/><circle cx="25.5" cy="47" r="2.5" fill="#000"/><circle cx="35.5" cy="47" r="2.5" fill="#000"/>
 <!-- load -->
 <path d="M28.5,59.5 h4 v3 h2.5 l-4.5,4 l-4.5,-4 h2.5z" fill="#1e8cf0"/><rect x="24.5" y="65.5" width="12" height="3.5" fill="#c9a352"/>
 <rect x="22" y="69" width="17" height="4.5" rx="1" fill="#e21d1d"/><circle cx="25.5" cy="74" r="2.5" fill="#000"/><circle cx="35.5" cy="74" r="2.5" fill="#000"/>
 <!-- unload -->
 <path d="M30.5,86 l4.5,4 h-2.5 v3 h-4 v-3 h-2.5z" fill="#7a7a7a"/><rect x="24.5" y="92.5" width="12" height="3.5" fill="#c9a352"/>
 <rect x="22" y="96" width="17" height="4.5" rx="1" fill="#e21d1d"/><circle cx="25.5" cy="101" r="2.5" fill="#000"/><circle cx="35.5" cy="101" r="2.5" fill="#000"/>
 <!-- finish -->
 <rect x="26" y="113" width="1" height="9" fill="#b89050"/><path d="M27,113 h2v2h-2z M31,113 h2v2h-2z M29,115 h2v2h-2z M33,115 h2v2h-2z M27,117 h2v2h-2z M31,117 h2v2h-2z" fill="#000"/>
 <rect x="22" y="123" width="17" height="4.5" rx="1" fill="#e21d1d"/><circle cx="25.5" cy="128" r="2.5" fill="#000"/><circle cx="35.5" cy="128" r="2.5" fill="#000"/>
</svg>
<div class="a" style="left:1538px;top:138px;width:130px;height:21px;background:#fff;border:1px solid #8a8a8a"></div>
<div class="a" style="left:1538px;top:165px;width:130px;height:21px;background:#fff;border:1px solid #8a8a8a"></div>
<div class="a" style="left:1538px;top:192px;width:130px;height:21px;background:#fff;border:1px solid #8a8a8a"></div>
<div class="a" style="left:1538px;top:219px;width:130px;height:21px;background:#fff;border:1px solid #8a8a8a"></div>
<div class="a" style="left:1538px;top:246px;width:130px;height:21px;background:#fff;border:1px solid #8a8a8a"></div>
<div class="t" style="left:1541.5px;top:143px;font-size:10.7px;color:#111">Source</div>
<div class="t" style="left:1541.5px;top:170px;font-size:10.7px;color:#111">Create TS</div>
<div class="t" style="left:1541.5px;top:197px;font-size:10.7px;color:#111">Load</div>
<div class="t" style="left:1541.5px;top:224px;font-size:10.7px;color:#111">Unload</div>
<div class="t" style="left:1541.5px;top:251px;font-size:10.7px;color:#111">Finish TS</div>
</body></html>
